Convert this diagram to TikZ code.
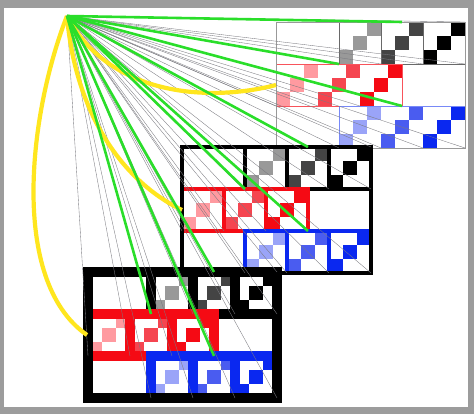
\documentclass[tikz,border=0pt]{standalone}
\usetikzlibrary{calc}
\definecolor{bg}{HTML}{9C9C9C}
\definecolor{kA}{HTML}{999999}
\definecolor{kB}{HTML}{444444}
\definecolor{kC}{HTML}{000000}
\definecolor{rA}{HTML}{FF9AA0}
\definecolor{rB}{HTML}{F54550}
\definecolor{rC}{HTML}{F50A14}
\definecolor{bA}{HTML}{9AA4F8}
\definecolor{bB}{HTML}{4A5CF0}
\definecolor{bC}{HTML}{0A28F0}
\definecolor{yel}{HTML}{FFE61E}
\definecolor{grn}{HTML}{2ADE2A}
\definecolor{ray}{HTML}{7A7A80}
\newcommand{\blk}[3]{%
  \fill[#3] (#1+28,#2) rectangle ++(14,14);
  \fill[#3] (#1+14,#2+14) rectangle ++(14,14);
  \fill[#3] (#1,#2+28) rectangle ++(14,14);
}
\newcommand{\farcopy}[2]{%
  \fill[white] (#1,#2) rectangle ++(189,126);
  \foreach \i/\c in {0/kA,1/kB,2/kC}{\blk{#1+63+42*\i}{#2}{\c}}
  \foreach \i in {0,1,2}{\draw[line width=0.7, kB!80] (#1+63+42*\i,#2) rectangle ++(42,42);}
  \foreach \i/\c in {0/rA,1/rB,2/rC}{\blk{#1+42*\i}{#2+42}{\c}}
  \draw[line width=0.7, rC!70] (#1,#2+42) rectangle ++(126,42);
  \foreach \i/\c in {0/bA,1/bB,2/bC}{\blk{#1+63+42*\i}{#2+84}{\c}}
  \draw[line width=0.7, bC!55] (#1+63,#2+84) rectangle ++(126,42);
  \draw[line width=0.6, kA] (#1,#2) rectangle ++(189,126);
}
\newcommand{\nearcopy}[3]{%
  \fill[white] (#1,#2) rectangle ++(189,126);
  \foreach \i/\c in {0/kA,1/kB,2/kC}{\blk{#1+63+42*\i}{#2}{\c}}
  \foreach \i in {0,1,2}{\draw[line width=#3, kC] (#1+63+42*\i,#2) rectangle ++(42,42);}
  \foreach \i/\c in {0/rA,1/rB,2/rC}{\blk{#1+42*\i}{#2+42}{\c}}
  \foreach \i in {0,1,2}{\draw[line width=#3, rC] (#1+42*\i,#2+42) rectangle ++(42,42);}
  \foreach \i/\c in {0/bA,1/bB,2/bC}{\blk{#1+63+42*\i}{#2+84}{\c}}
  \foreach \i in {0,1,2}{\draw[line width=#3, bC] (#1+63+42*\i,#2+84) rectangle ++(42,42);}
  \draw[line width=#3, kC] (#1,#2) rectangle ++(189,126);
}
\begin{document}
\begin{tikzpicture}[x=1pt,y=-1pt,
  raystyle/.style={ray, line width=0.35},
  greenray/.style={grn, line width=2.6},
  yellowcurve/.style={yel, line width=4.2}]
\useasboundingbox (0,0) rectangle (474,414);
\fill[bg] (0,0) rectangle (474,414);
\fill[white] (4,8) rectangle (468,407);
\coordinate (apex) at (67,16);
\coordinate (far) at (276,22);
\coordinate (mid) at (182,147);
\coordinate (near) at (88,272);
\farcopy{276}{22}
\nearcopy{182}{147}{4.5}
\nearcopy{88}{272}{10}
% thin rays
\foreach \X/\Y in {276/22,182/147,88/272}{
  \foreach \dx in {63,105,147,189}{
    \foreach \dy in {42,126}{
      \coordinate (p) at (\X+\dx,\Y+\dy);
      \draw[raystyle] (apex) -- (p);
    }
  }
  \foreach \dx in {0,42,84,126}{
    \coordinate (p) at (\X+\dx,\Y+84);
    \draw[raystyle] (apex) -- (p);
  }
  \coordinate (p) at (\X+189,\Y);
  \draw[raystyle] (apex) -- (p);
}
% yellow curves
\coordinate (yf) at (276,85);
\coordinate (ym) at (182,210);
\coordinate (yn) at (87,335);
\draw[yellowcurve] (apex) .. controls (110,97) and (210,102) .. (yf);
\draw[yellowcurve] (apex) .. controls (75,110) and (120,180) .. (ym);
\draw[yellowcurve] (apex) .. controls (30,110) and (8,280) .. (yn);
% green rays
\foreach \X/\Y [count=\k] in {276/22,182/147,88/272}{
  \coordinate (ga\k) at (\X+126,\Y);
  \coordinate (gb\k) at (\X+63,\Y+42);
  \coordinate (gc\k) at (\X+126,\Y+84);
  \draw[greenray] (apex) -- (ga\k);
  \draw[greenray] (apex) -- (gb\k);
  \draw[greenray] (apex) -- (gc\k);
}
\end{tikzpicture}
\end{document}
